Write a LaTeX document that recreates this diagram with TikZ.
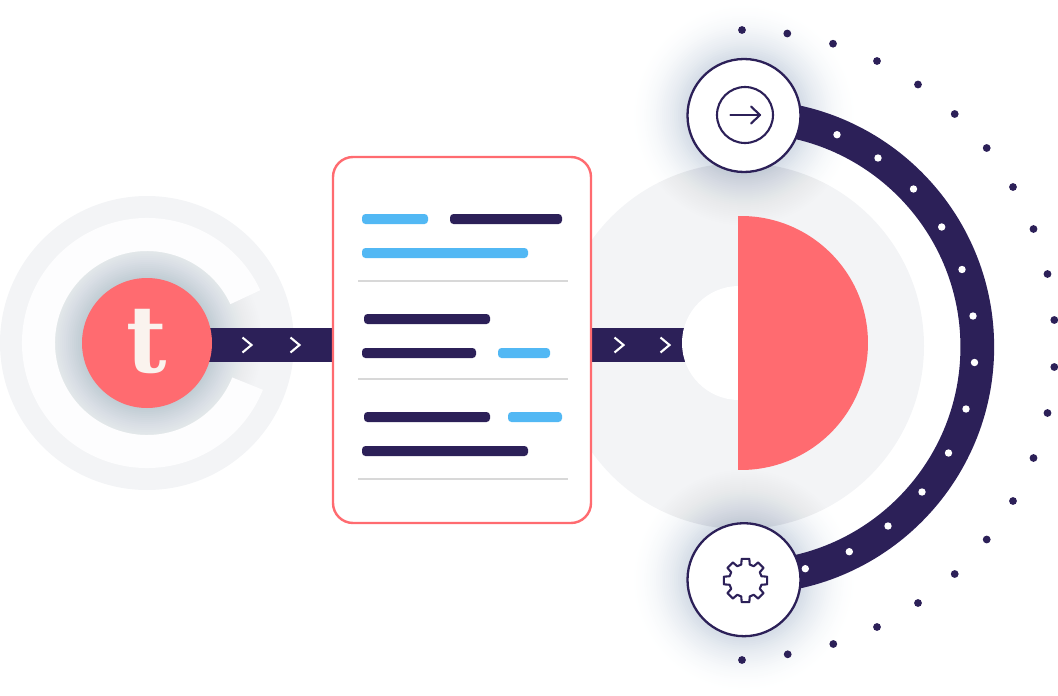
\documentclass[tikz,border=0pt]{standalone}
\usepackage{fontspec}
\newfontfamily\logofont{DejaVu Serif}
\definecolor{navy}{HTML}{2C2058}
\definecolor{coral}{HTML}{FF6B70}
\definecolor{sky}{HTML}{52B8F4}
\definecolor{pale}{HTML}{F3F4F6}
\definecolor{rule}{HTML}{D8D8D8}
\definecolor{slate}{HTML}{7F97B5}
\definecolor{cream}{HTML}{FAF3EE}
\newcommand{\glowat}[4]{% centre, inner radius, outer radius, peak strength
  \pgfmathtruncatemacro{\glowN}{(#3-#2)/2}
  \foreach \gi in {1,...,\glowN}{
    \pgfmathsetmacro{\glowT}{\gi/\glowN}
    \pgfmathsetmacro{\glowA}{2.5*#4*\glowT^1.5/\glowN}
    \pgfmathsetmacro{\glowR}{#3-2*\gi}
    \fill[slate,fill opacity=\glowA] (#1) circle[radius=\glowR];
  }}
\tikzset{
  iconcircle/.style={circle,draw=navy,line width=2.3pt,fill=white,minimum size=113pt,inner sep=0pt},
  flowbar/.style={draw=navy,line width=34pt},
  chevron/.style={draw=white,line width=2.1pt},
  navypill/.style={fill=navy,rounded corners=3.5pt},
  skypill/.style={fill=sky,rounded corners=3.5pt},
  cardrule/.style={draw=rule,line width=2pt},
  navydot/.style={fill=navy},
  holedot/.style={fill=white},
  iconline/.style={draw=navy,line width=2.1pt,line join=round,line cap=round}
}
\begin{document}
\begin{tikzpicture}[x=1pt,y=-1pt]
\useasboundingbox (0,0) rectangle (1058,696);
% named anchors
\coordinate (logoC) at (147,343);
\coordinate (logoBar) at (147,345);
\coordinate (cardW) at (333,345);
\coordinate (cardE) at (591,345);
\coordinate (holeBar) at (720,345);
\coordinate (discC) at (741,346);
\coordinate (holeC) at (739,343);
\coordinate (arcC) at (747,347);
\coordinate (goC) at (744,115.5);
\coordinate (gearC) at (744,579.7);

% left target
\fill[pale] (logoC) circle[radius=147];
\glowat{logoC}{64}{125}{.42}
\fill[white!85!pale,shift={(logoC)}] (22:125) arc[start angle=22,end angle=335,radius=125]
   -- (335:92) arc[start angle=335,end angle=22,radius=92] -- cycle;

% big disc and glows
\fill[pale] (discC) circle[radius=183];
\glowat{goC}{56}{122}{.42}
\glowat{gearC}{56}{122}{.42}

% flow bars
\draw[flowbar] (logoBar) -- (cardW);
\draw[flowbar] (cardE) -- (holeBar);
\foreach \x in {251.5,299.5,623.5,669.5}
  \draw[chevron] (\x-9,337.5) -- (\x,345) -- (\x-9,352.5);

% half discs
\fill[white] (739,286) arc[start angle=-90,end angle=-270,radius=57] -- cycle;
\fill[coral] (738,216.04) arc[start angle=-91.35,end angle=91.35,radius=127] -- cycle;

% dark arc with dots
\draw[navy,line width=33.7pt] (747,116.7) arc[start angle=-90,end angle=90,radius=230.3];
\foreach \p in {(837,134.7),(878,158),(913.5,189),(941.7,227),(962,269.5),(973,316),(974.5,362.5),(966,409),(948.5,453),(922,492),(888,526),(849.3,551.7),(805.3,568.7)}
  \fill[holedot] \p circle[radius=3.7];
\foreach \p in {(742,30),(787.3,33.5),(833,43.7),(877,61),(918,84.5),(954.7,114),(986.7,148),(1013,187),(1033.5,229),(1047.5,274),(1054.3,320),(1054.3,367),(1047.5,413),(1033.5,458),(1013,501),(986.7,539.5),(954.7,574),(918,603),(877,627),(833.3,644),(787.7,654.3),(742,660)}
  \fill[navydot] \p circle[radius=3.9];

% logo
\node[circle,fill=coral,minimum size=130pt,inner sep=0pt] (logo) at (logoC) {};
\node[text=cream,inner sep=0pt,xscale=.94] (logoT) at (146.5,342) {\fontsize{93}{93}\logofont\bfseries t};

% card
\node[draw=coral,line width=2.4pt,fill=white,rounded corners=20pt,minimum width=258pt,minimum height=366pt,inner sep=0pt] (card) at (462,340) {};
\fill[skypill] (362,214) rectangle (428,224);
\fill[navypill] (450,214) rectangle (562,224);
\fill[skypill] (362,248) rectangle (528,258);
\draw[cardrule] (358,281) -- (568,281);
\fill[navypill] (364,314) rectangle (490,324);
\fill[navypill] (362,348) rectangle (476,358);
\fill[skypill] (498,348) rectangle (550,358);
\draw[cardrule] (358,379) -- (568,379);
\fill[navypill] (364,412) rectangle (490,422);
\fill[skypill] (508,412) rectangle (562,422);
\fill[navypill] (362,446) rectangle (528,456);
\draw[cardrule] (358,479) -- (568,479);

% icon circles
\node[iconcircle] (go) at (goC) {};
\node[circle,draw=navy,line width=2.1pt,minimum size=56pt,inner sep=0pt] (goInner) at (745,115) {};
\draw[iconline] (730.3,115) -- (760,115);
\draw[iconline] (751,106.5) -- (760,115) -- (751,123.5);
\node[iconcircle] (gear) at (gearC) {};
\draw[iconline,shift={(745.5,580.5)}] (-15:16.5)
  \foreach \a in {0,45,...,315} {
    -- (\a-15:16.5) -- (\a-10:22) -- (\a+10:22) -- (\a+15:16.5)
    arc[start angle=\a+15,end angle=\a+30,radius=16.5]
  } -- cycle;
\end{tikzpicture}
\end{document}
